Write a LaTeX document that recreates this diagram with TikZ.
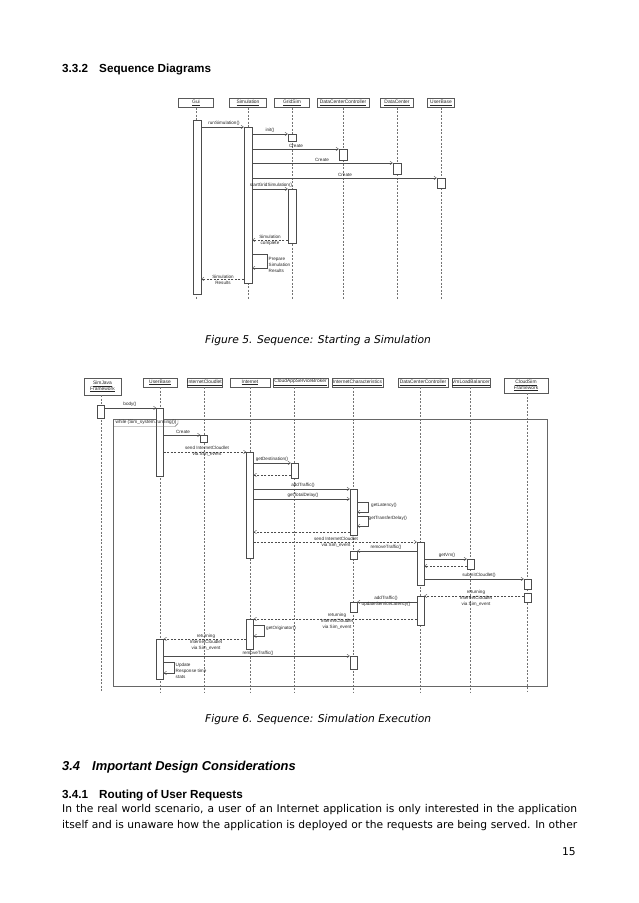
\documentclass[tikz,border=0pt]{standalone}
\usepackage{fontspec}
\setmainfont{DejaVu Sans}
\newfontfamily\arialf{Liberation Sans}
\usetikzlibrary{arrows.meta}
\begin{document}
\begin{tikzpicture}[x=1pt,y=-1pt,
  obj/.style={draw=black!65, line width=0.4pt, fill=white, inner sep=0pt, font=\arialf\fontsize{4.9}{5.6}\selectfont, text=black!85, align=center},
  act/.style={draw=black!70, line width=0.4pt, fill=white, inner sep=0pt, minimum width=8pt, anchor=north},
  act6/.style={act, minimum width=7pt},
  life/.style={draw=black!55, line width=0.35pt, dash pattern=on 2pt off 1.5pt},
  msg/.style={draw=black!70, line width=0.4pt, -{Straight Barb[length=2.5pt,width=3.6pt]}},
  ret/.style={msg, dash pattern=on 2pt off 1.5pt},
  lbl/.style={font=\arialf\fontsize{4.6}{6.2}\selectfont, text=black!85, inner sep=0pt, align=center},
  lbll/.style={lbl, align=left, anchor=west},
  loopframe/.style={draw=black!60, line width=0.45pt},
  hd/.style={font=\arialf\bfseries\fontsize{11.7}{14}\selectfont, inner sep=0pt, anchor=base west},
  hdi/.style={font=\arialf\bfseries\itshape\fontsize{12.9}{15}\selectfont, inner sep=0pt, anchor=base west},
  bodytxt/.style={font=\fontsize{10.7}{13}\selectfont, inner sep=0pt, anchor=base west},
  figcap/.style={font=\itshape\fontsize{10.7}{13}\selectfont, inner sep=0pt, anchor=west}
]
\useasboundingbox (0,0) rectangle (638,903);
\fill[white] (0,0) rectangle (638,903);

% ---------- headings ----------
\node[hd] (h332n) at (62,72.5) {3.3.2};
\node[hd] (h332t) at (99,72.5) {Sequence Diagrams};

% ================= FIGURE 5 =================
\node[obj, minimum width=35pt, minimum height=9pt] (gui) at (196,103) {\underline{Gui}};
\node[obj, minimum width=37pt, minimum height=9pt] (sim) at (248,103) {\underline{Simulation}};
\node[obj, minimum width=35pt, minimum height=9pt] (gs) at (292,103) {\underline{GridSim}};
\node[obj, minimum width=52pt, minimum height=9pt] (dcc) at (343,103) {\underline{DataCenterController}};
\node[obj, minimum width=33pt, minimum height=9pt] (dc) at (397,103) {\underline{DataCenter}};
\node[obj, minimum width=27pt, minimum height=9pt] (ub) at (441,103) {\underline{UserBase}};

\coordinate (guiE) at (196,299);
\coordinate (simE) at (248,299);
\coordinate (gsE) at (292,299);
\coordinate (dccE) at (343,299);
\coordinate (dcE) at (397,299);
\coordinate (ubE) at (441,299);
\draw[life] (gui.south) -- (guiE);
\draw[life] (sim.south) -- (simE);
\draw[life] (gs.south) -- (gsE);
\draw[life] (dcc.south) -- (dccE);
\draw[life] (dc.south) -- (dcE);
\draw[life] (ub.south) -- (ubE);

\node[act, minimum height=174pt] (gA) at (197,120) {};
\node[act, minimum height=156pt] (sA) at (248,127) {};
\node[act, minimum height=7pt] (gs1) at (292,134) {};
\node[act, minimum height=11pt] (dcc1) at (343,149) {};
\node[act, minimum height=11pt] (dc1) at (397,163) {};
\node[act, minimum height=10pt] (ub1) at (441,178) {};
\node[act, minimum height=54pt] (gs2) at (292,189) {};

\draw[msg] (gA.east |- 0,127) -- (sA.west |- 0,127);
\node[lbl] (l1) at (224,123.5) {runSimulation()};
\draw[msg] (sA.east |- 0,134) -- (gs1.west |- 0,134);
\node[lbl] (l2) at (270,130.5) {init()};
\draw[msg] (sA.east |- 0,149) -- (dcc1.west |- 0,149);
\node[lbl] (l3) at (296,145.5) {Create};
\draw[msg] (sA.east |- 0,163) -- (dc1.west |- 0,163);
\node[lbl] (l4) at (322,159.5) {Create};
\draw[msg] (sA.east |- 0,178) -- (ub1.west |- 0,178);
\node[lbl] (l5) at (345,174.5) {Create};
\draw[msg] (sA.east |- 0,189) -- (gs2.west |- 0,189);
\node[lbl] (l6) at (271,185.5) {startGridSimulation()};
\draw[ret] (gs2.west |- 0,240) -- (sA.east |- 0,240);
\node[lbl] (l7) at (270,240) {Simulation\\complete};
\coordinate (pr1) at (267,254);
\coordinate (pr2) at (267,268);
\draw[msg] (sA.east |- pr1) -- (pr1) -- (pr2) -- (sA.east |- pr2);
\node[lbll] (l8) at (268.5,265) {Prepare\\Simulation\\Results};
\draw[ret] (sA.west |- 0,279) -- (gA.east |- 0,279);
\node[lbl] (l9) at (223,280) {Simulation\\Results};

\node[figcap] (cap5) at (205,340.5) {Figure 5. Sequence: Starting a Simulation};

% ================= FIGURE 6 =================
\node[obj, minimum width=37pt, minimum height=17pt] (sj) at (102.5,386.5) {\underline{SimJava}\\\underline{Framework}};
\node[obj, minimum width=34pt, minimum height=9pt] (ub6) at (160,382.5) {\underline{UserBase}};
\node[obj, minimum width=35pt, minimum height=9pt] (ic) at (204.5,382.5) {\underline{InternetCloudlet}};
\node[obj, minimum width=40pt, minimum height=9pt] (in) at (250,382.5) {\underline{Internet}};
\node[obj, minimum width=55pt, minimum height=9pt] (br) at (300.5,382.5) {\underline{CloudAppServiceBroker}};
\node[obj, minimum width=51pt, minimum height=9pt] (ich) at (357.5,382.5) {\underline{InternetCharacteristics}};
\node[obj, minimum width=50pt, minimum height=9pt] (dcc6) at (423,382.5) {\underline{DataCenterController}};
\node[obj, minimum width=38pt, minimum height=9pt] (vm) at (471,382.5) {\underline{VmLoadBalancer}};
\node[obj, minimum width=44pt, minimum height=15pt] (cs) at (526,385.5) {\underline{CloudSim}\\\underline{Framework}};

\coordinate (sjE) at (101,692);
\coordinate (ub6E) at (160,692);
\coordinate (icE) at (204,692);
\coordinate (inE) at (250,692);
\coordinate (brE) at (294.5,692);
\coordinate (ichE) at (353.5,692);
\coordinate (dcc6E) at (420.5,692);
\coordinate (vmE) at (470.5,692);
\coordinate (csE) at (527.5,692);
\draw[life] (sj.south -| sjE) -- (sjE);
\draw[life] (ub6.south -| ub6E) -- (ub6E);
\draw[life] (ic.south -| icE) -- (icE);
\draw[life] (in.south -| inE) -- (inE);
\draw[life] (br.south -| brE) -- (brE);
\draw[life] (ich.south -| ichE) -- (ichE);
\draw[life] (dcc6.south -| dcc6E) -- (dcc6E);
\draw[life] (vm.south -| vmE) -- (vmE);
\draw[life] (cs.south -| csE) -- (csE);

% loop frame
\draw[loopframe] (113,419) rectangle (547,686);

% activations
\node[act6, minimum height=13pt] (sjA) at (101,405) {};
\node[act6, minimum height=68pt] (ubA1) at (160,408) {};
\node[act6, minimum height=7pt] (icA) at (204,435) {};
\node[act6, minimum height=106pt] (inA1) at (250,452) {};
\node[act6, minimum height=15pt] (brA) at (294.5,463) {};
\node[act6, minimum height=46pt] (ichA1) at (353.5,489) {};
\node[act6, minimum height=43pt] (dccA1) at (420.5,542) {};
\node[act6, minimum height=8pt] (ichA2) at (353.5,551) {};
\node[act6, minimum height=10pt] (vmA) at (470.5,559) {};
\node[act6, minimum height=10pt] (csA1) at (527.5,579) {};
\node[act6, minimum height=9pt] (csA2) at (527.5,593) {};
\node[act6, minimum height=29pt] (dccA2) at (420.5,596) {};
\node[act6, minimum height=10pt] (ichA3) at (353.5,602) {};
\node[act6, minimum height=30pt] (inA2) at (250,619) {};
\node[act6, minimum height=40pt] (ubA2) at (160,639) {};
\node[act6, minimum height=13pt] (ichA4) at (353.5,656) {};

% loop label (drawn over the activation)
\draw[loopframe] (113,426.5) -- (175,426.5) -- (178,423.5) -- (178,419);
\node[lbl, font=\arialf\fontsize{4.7}{5.5}\selectfont, anchor=west] (wl) at (115.5,422.6) {while (Sim\_system.running())};

% messages
\draw[msg] (sjA.east |- 0,408) -- (ubA1.west |- 0,408);
\node[lbl] (m1) at (130,404.5) {body()};
\draw[msg] (ubA1.east |- 0,435) -- (icA.west |- 0,435);
\node[lbl] (m2) at (183,431.5) {Create};
\draw[ret] (ubA1.east |- 0,452) -- (inA1.west |- 0,452);
\node[lbl] (m3) at (207,451.5) {send InternetCloudlet\\via Sim\_event};
\draw[msg] (inA1.east |- 0,463) -- (brA.west |- 0,463);
\node[lbl] (m4) at (272,459.5) {getDestination()};
\draw[ret] (brA.west |- 0,475) -- (inA1.east |- 0,475);
\draw[msg] (inA1.east |- 0,489) -- (ichA1.west |- 0,489);
\node[lbl] (m5) at (303,485.5) {addTraffic()};
\draw[msg] (inA1.east |- 0,499) -- (ichA1.west |- 0,499);
\node[lbl] (m6) at (303,495.5) {getTotalDelay()};
\coordinate (gl1) at (368,502);
\coordinate (gl2) at (368,512);
\draw[msg] (ichA1.east |- gl1) -- (gl1) -- (gl2) -- (ichA1.east |- gl2);
\node[lbll] (m7) at (371,505) {getLatency()};
\coordinate (gt1) at (368,516);
\coordinate (gt2) at (368,526);
\draw[msg] (ichA1.east |- gt1) -- (gt1) -- (gt2) -- (ichA1.east |- gt2);
\node[lbll] (m8) at (368.5,518.5) {getTransferDelay()};
\draw[ret] (ichA1.west |- 0,532) -- (inA1.east |- 0,532);
\draw[ret] (inA1.east |- 0,542) -- (dccA1.west |- 0,542);
\node[lbl] (m9) at (336,542.5) {send InternetCloudlet\\via Sim\_event};
\draw[msg] (dccA1.west |- 0,551) -- (ichA2.east |- 0,551);
\node[lbl] (m10) at (386,547.5) {removeTraffic()};
\draw[msg] (dccA1.east |- 0,559) -- (vmA.west |- 0,559);
\node[lbl] (m11) at (447,555.5) {getVm()};
\draw[ret] (vmA.west |- 0,566) -- (dccA1.east |- 0,566);
\draw[msg] (dccA1.east |- 0,579) -- (csA1.west |- 0,579);
\node[lbl] (m12) at (479,575.5) {submitCloudlet()};
\draw[ret] (csA2.west |- 0,596) -- (dccA2.east |- 0,596);
\node[lbl] (m13) at (476,598) {returning\\InternetCloudlet\\via Sim\_event};
\draw[msg] (dccA2.west |- 0,602) -- (ichA3.east |- 0,602);
\node[lbl] (m14) at (386,601.5) {addTraffic()\\updateServiceLatency()};
\draw[ret] (dccA2.west |- 0,619) -- (inA2.east |- 0,619);
\node[lbl] (m15) at (337,621.5) {returning\\InternetCloudlet\\via Sim\_event};
\coordinate (go1) at (264,625);
\coordinate (go2) at (264,636);
\draw[msg] (inA2.east |- go1) -- (go1) -- (go2) -- (inA2.east |- go2);
\node[lbll] (m16) at (266,628.5) {getOriginator()};
\draw[ret] (inA2.west |- 0,639) -- (ubA2.east |- 0,639);
\node[lbl] (m17) at (206,642) {returning\\InternetCloudlet\\via Sim\_event};
\draw[msg] (ubA2.east |- 0,656) -- (ichA4.west |- 0,656);
\node[lbl] (m18) at (258,653) {removeTraffic()};
\coordinate (us1) at (174,662);
\coordinate (us2) at (174,673);
\draw[msg] (ubA2.east |- us1) -- (us1) -- (us2) -- (ubA2.east |- us2);
\node[lbll] (m19) at (175.5,671) {Update\\Response time\\stats};

\node[figcap] (cap6) at (205,719.5) {Figure 6. Sequence: Simulation Execution};

% ---------- section text ----------
\node[hdi] (h34n) at (62,770) {3.4};
\node[hdi] (h34t) at (92,770) {Important Design Considerations};
\node[hd] (h341n) at (62,798) {3.4.1};
\node[hd] (h341t) at (99,798) {Routing of User Requests};
\node[bodytxt] (p1) at (62,812.5) {\hbox to 515pt{In the real world scenario, a user of an Internet application is only interested in the application}};
\node[bodytxt] (p2) at (62,828) {\hbox to 515pt{itself and is unaware how the application is deployed or the requests are being served. In other}};
\node[bodytxt, anchor=base east] (pg) at (576,855) {15};
\end{tikzpicture}
\end{document}
